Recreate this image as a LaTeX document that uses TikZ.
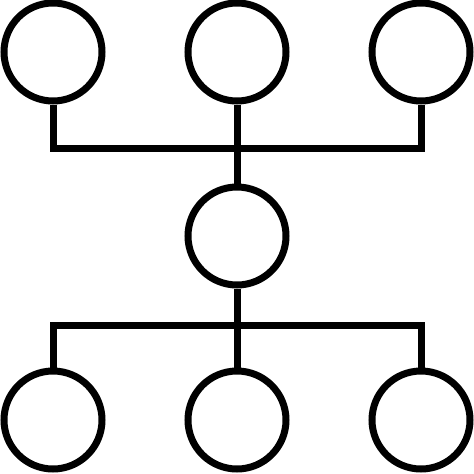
\documentclass[tikz,border=0pt]{standalone}
\tikzset{
  ring/.style={draw=black, circle, line width=7pt, inner sep=0pt, minimum size=98pt},
  wire/.style={draw=black, line width=7pt}
}
\begin{document}
\begin{tikzpicture}[x=1pt,y=-1pt]
    \useasboundingbox (0,0) rectangle (474,474);

    % top row
    \foreach \n/\x in {t1/53, t2/237, t3/421}
        \node[ring] (\n) at (\x,52) {};

    % middle
    \node[ring] (m) at (237,236) {};

    % bottom row
    \foreach \n/\x in {b1/53, b2/237, b3/421}
        \node[ring] (\n) at (\x,420) {};

    % bars
    \coordinate (topbar) at (237,148);
    \coordinate (botbar) at (237,325);

    % connectors
    \draw[wire] (t1.south) |- (topbar) -| (t3.south);
    \draw[wire] (t2.south) -- (m.north);
    \draw[wire] (b1.north) |- (botbar) -| (b3.north);
    \draw[wire] (m.south) -- (b2.north);
\end{tikzpicture}
\end{document}
